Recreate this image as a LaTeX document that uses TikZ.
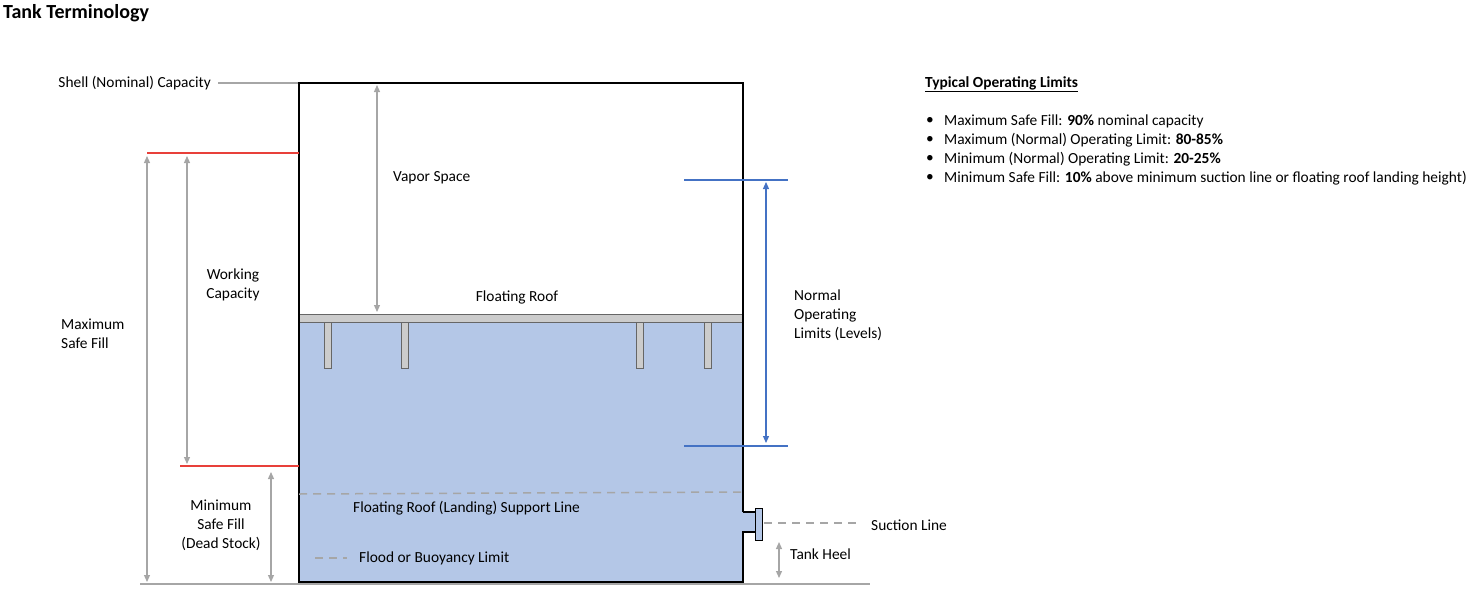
\documentclass[tikz,border=0pt]{standalone}
\usepackage{fontspec}
\setmainfont{Carlito}
\usetikzlibrary{arrows.meta}
\definecolor{liq}{HTML}{B4C7E7}
\definecolor{gr}{HTML}{A6A6A6}
\definecolor{bl}{HTML}{4472C4}
\definecolor{rd}{HTML}{E8403A}
\begin{document}
\begin{tikzpicture}[x=1pt,y=-1pt,
  lbl/.style={font=\fontsize{15.4}{18}\selectfont, inner sep=0},
  dim/.style={draw=gr, line width=1.2pt, {Triangle[width=6pt,length=7pt]}-{Triangle[width=6pt,length=7pt]}},
  leg/.style={draw=gray!80!black, fill=gray!40, line width=0.8pt},
  dsh/.style={draw=gr, line width=1.5pt, dash pattern=on 8pt off 6pt}]
\useasboundingbox (0,0) rectangle (1477,605);
% liquid
\fill[liq] (299,322) rectangle (743,582);
\fill[liq] (743,512) rectangle (755,532);
% floating roof
\node[leg, minimum width=444pt, minimum height=8pt, anchor=north west, inner sep=0] (roof) at (299,314) {};
\foreach \x/\n in {324/a,401/b,636/c,704/d}
  \node[leg, minimum width=7pt, minimum height=46pt, anchor=north west, inner sep=0] (leg\n) at (\x,322) {};
% tank outline
\draw[line width=2pt, line join=miter] (743,512) -- (743,83) -- (299,83) -- (299,582) -- (743,582) -- (743,532) -- (755,532);
\draw[line width=2pt] (743,512) -- (755,512);
\node[draw=black, fill=liq, line width=1pt, minimum width=7pt, minimum height=32pt, anchor=north west, inner sep=0] (pipe) at (755,508) {};
% ground line
\coordinate (g1) at (140,584); \coordinate (g2) at (870,584);
\draw[gr, line width=1.2pt] (g1) -- (g2);
% shell
\node[lbl, anchor=east] (shell) at (211,83) {Shell (Nominal) Capacity};
\coordinate (s2) at (298,83);
\draw[gr, line width=1.5pt] (shell.east)++(7,0) -- (s2);
% red lines
\coordinate (r1) at (147,153); \coordinate (r2) at (299,153);
\coordinate (r3) at (180,466); \coordinate (r4) at (299,466);
\draw[rd, line width=1.2pt] (r1) -- (r2);
\draw[rd, line width=1.2pt] (r3) -- (r4);
% dimension arrows
\coordinate (m1) at (147,156); \coordinate (m2) at (147,582);
\draw[dim] (m1) -- (m2);
\coordinate (w1) at (187,156); \coordinate (w2) at (187,464);
\draw[dim] (w1) -- (w2);
\coordinate (d1) at (271,472); \coordinate (d2) at (271,582);
\draw[dim] (d1) -- (d2);
\coordinate (v1) at (377,85); \coordinate (v2) at (377,312);
\draw[dim] (v1) -- (v2);
\coordinate (h1) at (779,542); \coordinate (h2) at (779,578);
\draw[dim] (h1) -- (h2);
% blue limits
\coordinate (b1) at (684,180); \coordinate (b2) at (788,180);
\coordinate (b3) at (684,446); \coordinate (b4) at (788,446);
\draw[bl, line width=1.5pt] (b1) -- (b2);
\draw[bl, line width=1.5pt] (b3) -- (b4);
\coordinate (n1) at (766,182); \coordinate (n2) at (766,443);
\draw[bl, line width=1.2pt, {Triangle[width=6pt,length=7pt]}-{Triangle[width=6pt,length=7pt]}] (n1) -- (n2);
% dashed lines
\coordinate (f1) at (299,494); \coordinate (f2) at (741,492);
\draw[dsh] (f1) -- (f2);
\coordinate (sl1) at (764,523); \coordinate (sl2) at (860,523);
\draw[dsh] (sl1) -- (sl2);
\coordinate (fb1) at (315,558); \coordinate (fb2) at (347,558);
\draw[dsh] (fb1) -- (fb2);
% labels
\node[lbl, anchor=west] (vs) at (393,178) {Vapor Space};
\node[lbl, align=center] (wc) at (233,285) {Working\\[1pt]Capacity};
\node[lbl, align=left, anchor=west] (msf) at (61,334) {Maximum\\[1pt]Safe Fill};
\node[lbl] (fr) at (517,297) {Floating Roof};
\node[lbl, align=left, anchor=west] (nol) at (794,315) {Normal\\[1pt]Operating\\[1pt]Limits (Levels)};
\node[lbl, align=center] (mins) at (221,525) {Minimum\\[1pt]Safe Fill\\[1pt](Dead Stock)};
\node[lbl, anchor=west] (frs) at (353,508) {Floating Roof (Landing) Support Line};
\node[lbl, anchor=west] (fbl) at (359,558) {Flood or Buoyancy Limit};
\node[lbl, anchor=west] (sln) at (871,525) {Suction Line};
\node[lbl, anchor=west] (th) at (790,554) {Tank Heel};
\node[font=\fontsize{20}{24}\selectfont\bfseries, anchor=west, inner sep=0] (title) at (3,13) {Tank Terminology};
% legend
\node[lbl, anchor=west, font=\fontsize{15.4}{18}\selectfont\bfseries] (lt) at (925,84) {\underline{Typical Operating Limits}};
\foreach \y/\t [count=\i] in {121/{Maximum Safe Fill: \textbf{90\%} nominal capacity},
  140/{Maximum (Normal) Operating Limit: \textbf{80-85\%}},
  159/{Minimum (Normal) Operating Limit: \textbf{20-25\%}},
  178/{Minimum Safe Fill: \textbf{10\%} above minimum suction line or floating roof landing height)}}{
  \node[lbl, anchor=west] (bu\i) at (926,\y) {•};
  \node[lbl, anchor=west] (li\i) at (944,\y) {\t};
}
\end{tikzpicture}
\end{document}
